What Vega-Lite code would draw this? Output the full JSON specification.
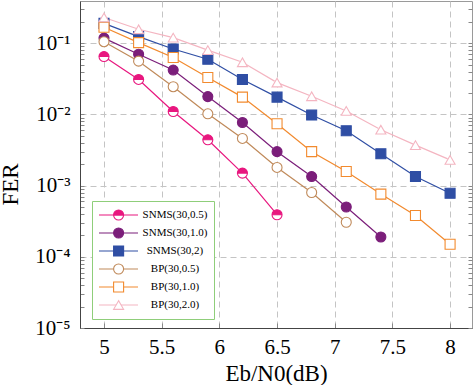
{
  "$schema": "https://vega.github.io/schema/vega-lite/v6.json",
  "width": 392,
  "height": 327,
  "autosize": {"type": "none"},
  "padding": {"left": 80, "top": 1, "right": 2, "bottom": 57},
  "background": "white",
  "config": {"view": {"stroke": "#9a9a9a", "strokeWidth": 1}, "font": "Liberation Serif",
    "legend": {"title": null, "orient": "none", "legendX": 12, "legendY": 200,
      "padding": 6, "cornerRadius": 0, "clipHeight": 16,
      "labelFont": "Liberation Serif", "labelFontSize": 11, "labelColor": "black",
      "labelAlign": "center", "rowPadding": 2, "labelLimit": 200}},
  "data": {"values": [
    {"series": "SNMS(30,0.5)", "ebn0": 5.0, "fer": 0.065},
    {"series": "SNMS(30,0.5)", "ebn0": 5.3, "fer": 0.031},
    {"series": "SNMS(30,0.5)", "ebn0": 5.6, "fer": 0.011},
    {"series": "SNMS(30,0.5)", "ebn0": 5.9, "fer": 0.0044},
    {"series": "SNMS(30,0.5)", "ebn0": 6.2, "fer": 0.0015},
    {"series": "SNMS(30,0.5)", "ebn0": 6.5, "fer": 0.00039},
    {"series": "SNMS(30,1.0)", "ebn0": 5.0, "fer": 0.118},
    {"series": "SNMS(30,1.0)", "ebn0": 5.3, "fer": 0.070},
    {"series": "SNMS(30,1.0)", "ebn0": 5.6, "fer": 0.042},
    {"series": "SNMS(30,1.0)", "ebn0": 5.9, "fer": 0.0178},
    {"series": "SNMS(30,1.0)", "ebn0": 6.2, "fer": 0.0077},
    {"series": "SNMS(30,1.0)", "ebn0": 6.5, "fer": 0.0030},
    {"series": "SNMS(30,1.0)", "ebn0": 6.8, "fer": 0.00134},
    {"series": "SNMS(30,1.0)", "ebn0": 7.1, "fer": 0.0005},
    {"series": "SNMS(30,1.0)", "ebn0": 7.4, "fer": 0.00019},
    {"series": "SNMS(30,2)", "ebn0": 5.0, "fer": 0.19},
    {"series": "SNMS(30,2)", "ebn0": 5.3, "fer": 0.124},
    {"series": "SNMS(30,2)", "ebn0": 5.6, "fer": 0.083},
    {"series": "SNMS(30,2)", "ebn0": 5.9, "fer": 0.0596},
    {"series": "SNMS(30,2)", "ebn0": 6.2, "fer": 0.031},
    {"series": "SNMS(30,2)", "ebn0": 6.5, "fer": 0.0175},
    {"series": "SNMS(30,2)", "ebn0": 6.8, "fer": 0.0098},
    {"series": "SNMS(30,2)", "ebn0": 7.1, "fer": 0.0059},
    {"series": "SNMS(30,2)", "ebn0": 7.4, "fer": 0.0028},
    {"series": "SNMS(30,2)", "ebn0": 7.7, "fer": 0.00134},
    {"series": "SNMS(30,2)", "ebn0": 8.0, "fer": 0.00078},
    {"series": "BP(30,0.5)", "ebn0": 5.0, "fer": 0.105},
    {"series": "BP(30,0.5)", "ebn0": 5.3, "fer": 0.056},
    {"series": "BP(30,0.5)", "ebn0": 5.6, "fer": 0.0245},
    {"series": "BP(30,0.5)", "ebn0": 5.9, "fer": 0.0102},
    {"series": "BP(30,0.5)", "ebn0": 6.2, "fer": 0.0046},
    {"series": "BP(30,0.5)", "ebn0": 6.5, "fer": 0.0018},
    {"series": "BP(30,0.5)", "ebn0": 6.8, "fer": 0.0008},
    {"series": "BP(30,0.5)", "ebn0": 7.1, "fer": 0.000306},
    {"series": "BP(30,1.0)", "ebn0": 5.0, "fer": 0.168},
    {"series": "BP(30,1.0)", "ebn0": 5.3, "fer": 0.102},
    {"series": "BP(30,1.0)", "ebn0": 5.6, "fer": 0.063},
    {"series": "BP(30,1.0)", "ebn0": 5.9, "fer": 0.033},
    {"series": "BP(30,1.0)", "ebn0": 6.2, "fer": 0.0175},
    {"series": "BP(30,1.0)", "ebn0": 6.5, "fer": 0.0074},
    {"series": "BP(30,1.0)", "ebn0": 6.8, "fer": 0.0030},
    {"series": "BP(30,1.0)", "ebn0": 7.1, "fer": 0.00158},
    {"series": "BP(30,1.0)", "ebn0": 7.4, "fer": 0.00076},
    {"series": "BP(30,1.0)", "ebn0": 7.7, "fer": 0.00038},
    {"series": "BP(30,1.0)", "ebn0": 8.0, "fer": 0.00015},
    {"series": "BP(30,2.0)", "ebn0": 5.0, "fer": 0.23},
    {"series": "BP(30,2.0)", "ebn0": 5.3, "fer": 0.157},
    {"series": "BP(30,2.0)", "ebn0": 5.6, "fer": 0.12},
    {"series": "BP(30,2.0)", "ebn0": 5.9, "fer": 0.080},
    {"series": "BP(30,2.0)", "ebn0": 6.2, "fer": 0.054},
    {"series": "BP(30,2.0)", "ebn0": 6.5, "fer": 0.028},
    {"series": "BP(30,2.0)", "ebn0": 6.8, "fer": 0.018},
    {"series": "BP(30,2.0)", "ebn0": 7.1, "fer": 0.0112},
    {"series": "BP(30,2.0)", "ebn0": 7.4, "fer": 0.0061},
    {"series": "BP(30,2.0)", "ebn0": 7.7, "fer": 0.0037},
    {"series": "BP(30,2.0)", "ebn0": 8.0, "fer": 0.0023}
  ]},
  "resolve": {"axis": {"y": "independent"}},
  "layer": [
    {
      "mark": {"type": "line", "strokeWidth": 1.2},
      "encoding": {
        "x": {"field": "ebn0", "type": "quantitative",
          "scale": {"domain": [4.792, 8.19], "nice": false, "zero": false},
          "axis": {"orient": "bottom", "values": [5, 5.5, 6, 6.5, 7, 7.5, 8], "format": "~g",
            "title": "Eb/N0(dB)", "titleFont": "Liberation Serif", "titleFontSize": 23, "titleFontWeight": "normal",
            "titleColor": "black", "titleY": 52, "titleBaseline": "alphabetic",
            "labelFont": "Liberation Serif", "labelFontSize": 21, "labelColor": "black", "labelPadding": 13, "labelFlush": false,
            "tickSize": -5, "tickColor": "#888888",
            "grid": true, "gridColor": "#c4c4c4", "gridDash": [6, 4],
            "domainColor": "#444444"}},
        "y": {"field": "fer", "type": "quantitative",
          "scale": {"type": "log", "domain": [0.00001, 0.392], "nice": false},
          "axis": {"orient": "left",
            "values": [0.00001, 0.00002, 0.00003, 0.00004, 0.00005, 0.00006, 0.00007, 0.00008, 0.00009,
                       0.0001, 0.0002, 0.0003, 0.0004, 0.0005, 0.0006, 0.0007, 0.0008, 0.0009,
                       0.001, 0.002, 0.003, 0.004, 0.005, 0.006, 0.007, 0.008, 0.009,
                       0.01, 0.02, 0.03, 0.04, 0.05, 0.06, 0.07, 0.08, 0.09,
                       0.1, 0.2, 0.3],
            "labelExpr": "abs(log(datum.value)/LN10 - round(log(datum.value)/LN10)) < 0.01 ? '10' + ['⁻⁵','⁻⁴','⁻³','⁻²','⁻¹'][round(log(datum.value)/LN10) + 5] : ''",
            "labelOverlap": false, "labelFlush": false,
            "title": "FER", "titleFont": "Liberation Serif", "titleFontSize": 23, "titleFontWeight": "normal",
            "titleColor": "black", "titleX": -63, "titleY": 183, "titleBaseline": "alphabetic", "titleAlign": "center",
            "labelFont": "Liberation Serif", "labelFontSize": 21, "labelColor": "black", "labelPadding": 14, "labelBaseline": "middle",
            "tickSize": -4, "tickColor": "#888888",
            "grid": true, "gridColor": "#c4c4c4", "gridDash": [6, 4],
            "gridOpacity": {"condition": {"test": "abs(log(datum.value)/LN10 - round(log(datum.value)/LN10)) < 0.01", "value": 1}, "value": 0},
            "domainColor": "#444444"}},
        "color": {"field": "series", "type": "nominal",
          "scale": {"domain": ["BP(30,2.0)", "BP(30,1.0)", "BP(30,0.5)", "SNMS(30,2)", "SNMS(30,1.0)", "SNMS(30,0.5)"],
                    "range": ["#f4b5c1", "#f28a2e", "#c08a5a", "#2f4ea4", "#7b1e7a", "#e8177f"]},
          "legend": {"values": ["SNMS(30,0.5)", "SNMS(30,1.0)", "SNMS(30,2)", "BP(30,0.5)", "BP(30,1.0)", "BP(30,2.0)"],
            "symbolType": "stroke", "symbolSize": 1521, "symbolStrokeWidth": 1.2,
            "strokeColor": "#8fce7a", "fillColor": "white", "labelOffset": 36}}
      }
    },
    {
      "transform": [{"filter": "datum.series !== 'BP(30,2.0)'"}],
      "mark": {"type": "point", "filled": true, "fill": "white", "strokeWidth": 0, "opacity": 1, "size": 100},
      "encoding": {
        "x": {"field": "ebn0", "type": "quantitative"},
        "y": {"field": "fer", "type": "quantitative",
          "axis": {"orient": "right",
            "values": [0.00001, 0.00002, 0.00003, 0.00004, 0.00005, 0.00006, 0.00007, 0.00008, 0.00009,
                       0.0001, 0.0002, 0.0003, 0.0004, 0.0005, 0.0006, 0.0007, 0.0008, 0.0009,
                       0.001, 0.002, 0.003, 0.004, 0.005, 0.006, 0.007, 0.008, 0.009,
                       0.01, 0.02, 0.03, 0.04, 0.05, 0.06, 0.07, 0.08, 0.09,
                       0.1, 0.2, 0.3],
            "labels": false, "grid": false, "domain": false, "title": null,
            "tickSize": -4, "tickColor": "#888888"}}
      }
    },
    {
      "transform": [{"filter": "datum.series === 'BP(30,2.0)'"}],
      "mark": {"type": "point", "filled": true, "fill": "white", "strokeWidth": 0, "opacity": 1, "size": 30},
      "encoding": {
        "x": {"field": "ebn0", "type": "quantitative"},
        "y": {"field": "fer", "type": "quantitative", "axis": null}
      }
    },
    {
      "mark": {"type": "point", "filled": true, "size": 100, "strokeWidth": 1.1, "opacity": 1},
      "encoding": {
        "x": {"field": "ebn0", "type": "quantitative"},
        "y": {"field": "fer", "type": "quantitative", "axis": null},
        "shape": {"field": "series", "type": "nominal",
          "scale": {"domain": ["SNMS(30,0.5)", "SNMS(30,1.0)", "SNMS(30,2)", "BP(30,0.5)", "BP(30,1.0)", "BP(30,2.0)"],
                    "range": ["M-1,0A1,1 0 0,1 1,0ZM-1,0A1,1 0 0,0 1,0A1,1 0 0,1 -1,0", "circle", "square", "circle", "square", "triangle-up"]},
          "legend": {"symbolSize": 100, "symbolStrokeWidth": 1.1, "symbolOffset": 14.6,
            "strokeColor": "transparent", "fillColor": "transparent", "labelOpacity": 0, "labelOffset": 51}},
        "fill": {"field": "series", "type": "nominal",
          "scale": {"domain": ["SNMS(30,0.5)", "SNMS(30,1.0)", "SNMS(30,2)", "BP(30,0.5)", "BP(30,1.0)", "BP(30,2.0)"],
                    "range": ["#e8177f", "#7b1e7a", "#2f4ea4", "#ffffff", "#ffffff", "#ffffff"]},
          "legend": {"symbolSize": 100, "symbolStrokeWidth": 1.1, "symbolOffset": 14.6,
            "strokeColor": "transparent", "fillColor": "transparent", "labelOpacity": 0, "labelOffset": 51}},
        "stroke": {"field": "series", "type": "nominal",
          "scale": {"domain": ["SNMS(30,0.5)", "SNMS(30,1.0)", "SNMS(30,2)", "BP(30,0.5)", "BP(30,1.0)", "BP(30,2.0)"],
                    "range": ["#e8177f", "#7b1e7a", "#2f4ea4", "#c08a5a", "#f28a2e", "#f4b5c1"]},
          "legend": {"symbolSize": 100, "symbolStrokeWidth": 1.1, "symbolOffset": 14.6,
            "strokeColor": "transparent", "fillColor": "transparent", "labelOpacity": 0, "labelOffset": 51}}
      }
    }
  ]
}
